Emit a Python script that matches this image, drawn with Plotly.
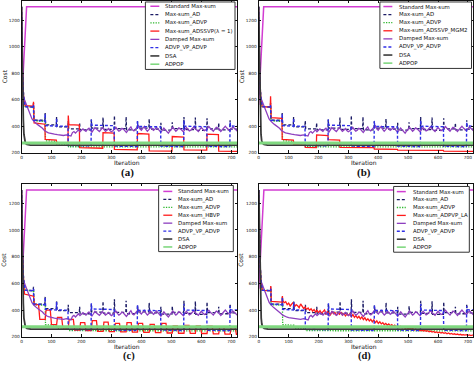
import plotly.graph_objects as go

W, H = 474, 365

# ---------------- data ----------------
STD_X = [0, 6, 17, 750]
STD_Y = [560, 800, 1300, 1300]

START_X = [0, 3, 7, 12]
START_Y = [1300, 820, 620, 548]

# Max-sum_AD: periodic spikes
SPIKE_IT = [40, 79, 117, 156, 194, 233, 272, 310, 349, 387, 426, 465, 503, 542, 580, 619, 658, 696, 735]
AD_PEAK = [575, 500, 470, 440, 425, 450, 465, 480, 470, 435, 455, 425, 430, 470, 465, 460, 425, 445, 430]
AD_LEVEL = [445, 410, 395, 380, 372, 385, 376, 382, 372, 386, 378, 370, 382, 375, 368, 380, 372, 378, 375]
AD_INIT_LEVEL = 545

ADVP_X = [0, 3, 7, 12, 40, 41, 79, 80, 117, 118, 156, 157, 750]
ADVP_Y = [1300, 820, 620, 548, 545, 440, 436, 290, 286, 262, 260, 245, 244]

DAMPED_HEAD_X = [0, 2, 5, 10, 15, 20, 25, 30, 35, 40, 45, 50, 55, 60, 65, 70, 75, 80, 85, 90,
                 95, 100, 110, 120, 130, 140, 150, 160, 165]
DAMPED_HEAD_Y = [1300, 780, 640, 600, 570, 545, 510, 480, 455, 440, 425, 418, 410, 402, 395, 385,
                 372, 362, 355, 350, 346, 343, 340, 336, 334, 330, 335, 328, 326]
DAMPED_TAIL_START, DAMPED_TAIL_STEP = 170, 5
DAMPED_TAIL_Y = [
    352, 360, 348, 365, 372, 358, 366, 380, 370, 362, 376, 385, 368, 355, 372, 390, 378, 365, 360, 374,
    388, 376, 362, 370, 382, 368, 358,
    366, 380, 392, 375, 362, 370, 384, 378, 360, 352, 368, 386, 395, 372, 364, 378, 392, 402, 380, 370,
    386, 398, 376, 362, 374, 390, 384, 368, 376, 392,
    380, 366, 354, 370, 386, 372, 360, 348, 364, 380, 392, 376, 362, 372, 388, 380, 366, 358, 374, 390,
    378, 364, 370, 386, 396, 380, 368, 360, 376, 390,
    378, 366, 372, 388, 398, 384, 370, 362, 378, 392, 386, 372, 360, 374, 388, 400, 386, 372, 366, 380,
    394, 384, 370, 362, 376, 390, 382, 370, 360, 372]

BLUE_X = [0, 3, 7, 12, 39, 40, 41, 78, 79, 80, 116, 117, 118, 155, 156, 232, 233, 234, 309, 310,
          386, 387, 388, 464, 465, 541, 542, 543, 618, 619, 695, 696, 697, 750]
BLUE_Y = [1300, 820, 620, 548, 545, 560, 445, 440, 495, 405, 400, 460, 402, 398, 255, 252, 450, 408,
          404, 250, 247, 440, 398, 395, 250, 246, 445, 400, 396, 249, 246, 430, 402, 398]

DSA_X = [0, 2, 4, 6, 8, 10, 13, 18, 30, 750]
DSA_Y = [1300, 950, 650, 450, 340, 295, 272, 262, 258, 257]

ADPOP_X = [0, 750]
ADPOP_Y = [274, 274]

# red series, one per panel
ADSSVP_X = [0, 3, 7, 12, 39, 40, 42, 78, 79, 116, 117, 155, 156, 158, 193, 194, 271, 272, 309, 310,
            386, 387, 425, 426, 502, 503, 541, 542, 618, 619, 657, 658, 750]
ADSSVP_Y = [1300, 820, 620, 555, 552, 585, 425, 415, 300, 296, 275, 272, 480, 412, 408, 238, 234, 352,
            348, 225, 222, 345, 340, 214, 212, 322, 318, 222, 220, 340, 336, 212, 210]

MGM2_X = [0, 3, 7, 12, 39, 40, 42, 78, 79, 116, 117, 155, 156, 193, 194, 232, 233, 271, 272, 386,
          387, 464, 465, 618, 619, 750]
MGM2_Y = [1300, 820, 620, 548, 545, 625, 465, 460, 300, 296, 262, 258, 240, 238, 335, 330, 298, 295,
          240, 238, 228, 226, 220, 218, 212, 210]

HBVP_HEAD_X = [0, 3, 7, 10, 39]
HBVP_HEAD_Y = [1300, 820, 620, 520, 505]
HBVP_HUMP_IT = [40, 79, 117, 156, 194, 233, 272, 310, 349, 387, 426, 465, 503, 542, 580, 619, 658, 696]
HBVP_PEAK = [440, 400, 345, 330, 305, 320, 310, 300, 305, 300, 292, 300, 282, 285, 282, 280, 270, 268]
HBVP_BASE = [330, 290, 265, 250, 245, 240, 238, 236, 234, 232, 230, 228, 226, 225, 224, 222, 220, 218]

LA_HEAD_X = [0, 3, 7, 12, 39, 40, 42, 78, 79]
LA_HEAD_Y = [1300, 820, 620, 548, 545, 580, 465, 460, 505]
LA_TAIL_START, LA_TAIL_STEP = 80, 5
LA_TAIL_Y = [
    470, 455, 462, 440, 452, 430, 445, 458, 425, 440, 432, 418, 446, 428, 412,
    422, 405, 415, 398, 410, 392, 404, 385, 398, 380, 395, 376, 388, 400, 372, 386, 378, 365, 390, 372,
    382, 360, 378, 368, 385, 362, 374, 356, 370, 360,
    372, 350, 366, 345, 358, 340, 352, 334, 348, 328, 342, 322, 335, 318, 330, 312, 326, 305, 318, 300,
    312, 296, 305, 290, 300, 286, 296, 282, 290, 278,
    286, 274, 282, 270, 278, 266, 274, 262, 270, 258, 266, 255, 262, 250, 258, 248, 254, 245, 250, 242,
    248, 240, 245, 237, 242, 235, 240, 232, 236, 230,
    234, 228, 232, 225, 230, 222, 228, 220, 225, 218, 222, 216, 220, 214, 218, 213, 216, 212, 215, 210,
    213, 209, 212, 208, 210, 207, 209, 206, 208, 206]

X_TICKS = [0, 100, 200, 300, 400, 500, 600, 700]
Y_TICKS = [200, 400, 600, 800, 1000, 1200]

LEGEND_COMMON = ["Standard Max-sum", "Max-sum_AD", "Max-sum_ADVP", None, "Damped Max-sum",
                 "ADVP_VP_ADVP", "DSA", "ADPOP"]
RED_NAMES = ["Max-sum_ADSSVP(λ = 1)", "Max-sum_ADSSVP_MGM2", "Max-sum_HBVP", "Max-sum_ADPVP_LA"]
PANEL_TAGS = ["(a)", "(b)", "(c)", "(d)"]

# ---------------- build series ----------------
def build_ad():
    xs, ys = list(START_X), list(START_Y)
    level = AD_INIT_LEVEL
    for s, p, l in zip(SPIKE_IT, AD_PEAK, AD_LEVEL):
        xs += [s - 1, s, s + 1.5]
        ys += [level, p, l]
        level = l
    xs.append(750); ys.append(level)
    return xs, ys

def build_hbvp():
    xs, ys = list(HBVP_HEAD_X), list(HBVP_HEAD_Y)
    prev = HBVP_HEAD_Y[-1]
    for s, p, b in zip(HBVP_HUMP_IT, HBVP_PEAK, HBVP_BASE):
        xs += [s, s + 3, s + 17, s + 21]
        ys += [prev, p, p, b]
        prev = b
    xs.append(750); ys.append(prev)
    return xs, ys

def tail_x(start, step, n):
    return [start + step * i for i in range(n)]

AD_X, AD_Y = build_ad()
DAMP_X = DAMPED_HEAD_X + tail_x(DAMPED_TAIL_START, DAMPED_TAIL_STEP, len(DAMPED_TAIL_Y))
DAMP_Y = DAMPED_HEAD_Y + DAMPED_TAIL_Y
HB_X, HB_Y = build_hbvp()
LA_X = LA_HEAD_X + tail_x(LA_TAIL_START, LA_TAIL_STEP, len(LA_TAIL_Y))
LA_Y = LA_HEAD_Y + LA_TAIL_Y

RED_SERIES = [(ADSSVP_X, ADSSVP_Y), (MGM2_X, MGM2_Y), (HB_X, HB_Y), (LA_X, LA_Y)]

STYLES = [
    dict(color="#d23cd2", dash="solid", width=1.5),     # Standard
    dict(color="#1c1c66", dash="3px,2px", width=1.3),   # AD
    dict(color="#2fb82f", dash="1.3px,1.3px", width=1.3), # ADVP
    dict(color="#ff1a1a", dash="solid", width=1.3),     # red
    dict(color="#8d3fbf", dash="solid", width=1.3),     # Damped
    dict(color="#2f2fe6", dash="3px,2px", width=1.4),   # ADVP_VP_ADVP
    dict(color="#3a3a3a", dash="solid", width=1.8),     # DSA
    dict(color="#80d880", dash="solid", width=3.0),     # ADPOP
]

# ---------------- geometry (pixels) ----------------
PANELS = [
    dict(x0=20.6, x1=237.0, y0=0.9, y1=154.0, xmax=719),
    dict(x0=258.7, x1=474.0, y0=0.9, y1=154.0, xmax=717),
    dict(x0=20.6, x1=237.0, y0=185.5, y1=339.5, xmax=719),
    dict(x0=258.9, x1=474.0, y0=185.5, y1=339.5, xmax=717),
]
LEGENDS = [
    dict(bx0=145, by0=2, bx1=235, by1=70, lx0=150, lx1=159, tx=162.5, y=6.3, dy=8.35),
    dict(bx0=380.5, by0=2, bx1=472.5, by1=69, lx0=384, lx1=393, tx=397.5, y=6.6, dy=8.15),
    dict(bx0=158.3, by0=187, bx1=233.3, by1=253.7, lx0=163, lx1=172, tx=176, y=193.0, dy=8.0),
    dict(bx0=394.3, by0=188, bx1=470.3, by1=254.3, lx0=397.5, lx1=406.5, tx=411.5, y=193.2, dy=8.0),
]
LABEL_POS = [
    dict(cost=(3, 77), it=(127, 164.2), tag=(127, 174), tagsize=11),
    dict(cost=(241, 77), it=(365, 164.2), tag=(365, 174), tagsize=11),
    dict(cost=(3, 262), it=(127, 349.6), tag=(129, 359.3), tagsize=10.5),
    dict(cost=(241, 262), it=(365, 349.6), tag=(365, 359.3), tagsize=10.5),
]

def PX(px):
    return px / W

def PY(py):
    return 1 - py / H

FONT = "DejaVu Sans"

fig = go.Figure()
layout = dict(width=W, height=H, autosize=False, margin=dict(l=0, r=0, t=0, b=0),
              paper_bgcolor="white", plot_bgcolor="white", showlegend=False)
shapes, annos = [], []

for i, pan in enumerate(PANELS):
    sfx = "" if i == 0 else str(i + 1)
    xa, ya = "x" + sfx, "y" + sfx
    series = [(STD_X, STD_Y), (AD_X, AD_Y), (ADVP_X, ADVP_Y), RED_SERIES[i], (DAMP_X, DAMP_Y),
              (BLUE_X, BLUE_Y), (DSA_X, DSA_Y), (ADPOP_X, ADPOP_Y)]
    names = list(LEGEND_COMMON)
    names[3] = RED_NAMES[i]
    for (xs, ys), st, nm in zip(series, STYLES, names):
        fig.add_trace(go.Scatter(x=xs, y=ys, mode="lines", name=nm, xaxis=xa, yaxis=ya,
                                 line=dict(color=st["color"], dash=st["dash"], width=st["width"]),
                                 hoverinfo="skip"))
    common = dict(showline=True, linecolor="#111111", linewidth=1.0, mirror="allticks",
                  ticks="inside", ticklen=2.5, tickwidth=0.8, tickcolor="#111111",
                  showgrid=False, zeroline=False,
                  tickfont=dict(family=FONT, size=4.3, color="#111111"))
    layout["xaxis" + sfx] = dict(common, domain=[PX(pan["x0"]), PX(pan["x1"])],
                                 range=[0, pan["xmax"]], tickvals=X_TICKS, anchor=ya)
    layout["yaxis" + sfx] = dict(common, domain=[PY(pan["y1"]), PY(pan["y0"])],
                                 range=[200, 1345], tickvals=Y_TICKS, anchor=xa)

    # legend box
    lg = LEGENDS[i]
    shapes.append(dict(type="rect", xref="paper", yref="paper", x0=PX(lg["bx0"]), x1=PX(lg["bx1"]),
                       y0=PY(lg["by1"]), y1=PY(lg["by0"]), fillcolor="white",
                       line=dict(color="#333333", width=1.0), layer="above"))
    for k, (st, nm) in enumerate(zip(STYLES, names)):
        yy = lg["y"] + k * lg["dy"]
        shapes.append(dict(type="line", xref="paper", yref="paper", x0=PX(lg["lx0"]), x1=PX(lg["lx1"]),
                           y0=PY(yy), y1=PY(yy), layer="above",
                           line=dict(color=st["color"], dash=st["dash"], width=min(st["width"], 1.6))))
        annos.append(dict(xref="paper", yref="paper", x=PX(lg["tx"]), y=PY(yy), text=nm,
                          showarrow=False, xanchor="left", yanchor="middle",
                          font=dict(family=FONT, size=5.4, color="#111111")))

    lp = LABEL_POS[i]
    annos.append(dict(xref="paper", yref="paper", x=PX(lp["cost"][0]), y=PY(lp["cost"][1]), text="Cost",
                      showarrow=False, textangle=-90, xanchor="center", yanchor="middle",
                      font=dict(family=FONT, size=6, color="#111111")))
    annos.append(dict(xref="paper", yref="paper", x=PX(lp["it"][0]), y=PY(lp["it"][1]), text="Iteration",
                      showarrow=False, xanchor="center", yanchor="middle",
                      font=dict(family=FONT, size=6, color="#111111")))
    annos.append(dict(xref="paper", yref="paper", x=PX(lp["tag"][0]), y=PY(lp["tag"][1]),
                      text="<b>" + PANEL_TAGS[i] + "</b>",
                      showarrow=False, xanchor="center", yanchor="middle",
                      font=dict(family="Liberation Serif", size=lp["tagsize"], color="#111111")))

layout["shapes"] = shapes
layout["annotations"] = annos
fig.update_layout(**layout)
fig.write_html("out.html", config={"displayModeBar": False},
               post_script="document.body.style.margin='0px';document.body.style.overflow='hidden';")
